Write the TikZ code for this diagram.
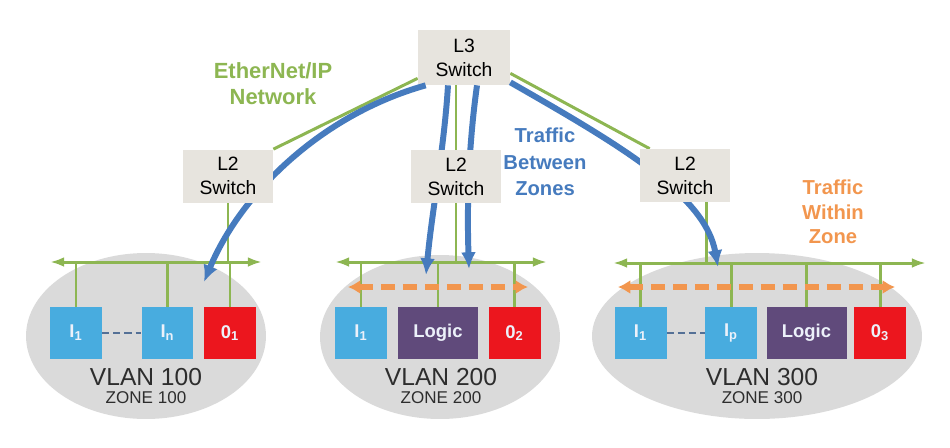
\documentclass[tikz,border=0pt]{standalone}
\usepackage{fontspec}
\setmainfont{Liberation Sans}
\usepackage{tikz}
\usetikzlibrary{arrows.meta}
\usetikzlibrary{calc}
\usetikzlibrary{shapes.geometric}
\definecolor{netgreen}{RGB}{141,182,82}
\definecolor{netblue}{RGB}{70,123,190}
\definecolor{netorange}{RGB}{242,150,78}
\definecolor{boxgray}{RGB}{231,228,222}
\definecolor{zonegray}{RGB}{218,218,218}
\definecolor{devblue}{RGB}{72,172,223}
\definecolor{devred}{RGB}{236,22,30}
\definecolor{devpurple}{RGB}{96,74,123}
\definecolor{devtext}{RGB}{236,241,250}
\definecolor{linkblue}{RGB}{84,112,150}
\definecolor{labelgray}{RGB}{45,45,45}
\pgfdeclarelayer{zones}
\pgfdeclarelayer{links}
\pgfsetlayers{zones,links,main}
\tikzstyle{switchbox} = [rectangle, fill=boxgray, minimum width=1.8cm, minimum height=1.06cm, align=center, inner sep=0pt, font=\fontsize{11}{13.6}\selectfont]
\tikzstyle{device} = [rectangle, minimum width=1.04cm, minimum height=1.04cm, inner sep=0pt, text=devtext, font=\fontsize{10.5}{12}\selectfont\bfseries]
\tikzstyle{zone} = [ellipse, fill=zonegray, inner sep=0pt]
\tikzstyle{vlan} = [text=labelgray, font=\fontsize{14}{16}\selectfont]
\tikzstyle{zonename} = [text=labelgray, font=\fontsize{9.7}{11}\selectfont]
\tikzstyle{net} = [netgreen, line width=1.7pt]
\tikzstyle{bus} = [net, {Latex[length=8pt,width=5.5pt]}-{Latex[length=8pt,width=5.5pt]}]
\tikzstyle{between} = [-{Latex[length=9.5pt,width=8.5pt]}, netblue, line width=3.4pt]
\tikzstyle{within} = [{Latex[length=7pt,width=8pt]}-{Latex[length=7pt,width=8pt]}, netorange, line width=3.2pt, dash pattern=on 8pt off 4.5pt]
\tikzstyle{chain} = [linkblue, line width=1.4pt, dash pattern=on 4pt off 2.3pt]
\tikzstyle{caption} = [align=center, font=\fontsize{11.5}{15}\selectfont\bfseries]

\begin{document}
\begin{tikzpicture}[x=0.02cm, y=-0.02cm]

  \useasboundingbox (0,0) rectangle (950,447);

  % zones
  \begin{pgfonlayer}{zones}
    \node[zone, minimum width=4.8cm, minimum height=3.32cm] (z1) at (146,336) {};
    \node[zone, minimum width=4.8cm, minimum height=3.28cm] (z2) at (440,337) {};
    \node[zone, minimum width=6.6cm, minimum height=3.32cm] (z3) at (757,336) {};
  \end{pgfonlayer}

  \foreach \x/\n in {146/100, 441/200, 762/300} {
    \node[vlan] at (\x,377) {VLAN \n};
    \node[zonename] at (\x,398) {ZONE \n};
  }

  % buses
  \coordinate (bus1w) at (50,262);  \coordinate (bus1e) at (262,262);
  \coordinate (bus2w) at (335,262); \coordinate (bus2e) at (547,262);
  \coordinate (bus3w) at (613,263); \coordinate (bus3e) at (926,263);
  \draw[bus] (bus1w) -- (bus1e);
  \draw[bus] (bus2w) -- (bus2e);
  \draw[bus] (bus3w) -- (bus3e);

  % Zone 100
  \node[device, fill=devblue] (i1a) at (76,333) {I\textsubscript{1}};
  \node[device, fill=devblue] (ina) at (167.5,333) {I\textsubscript{n}};
  \node[device, fill=devred] (o1) at (230,333) {0\textsubscript{1}};
  \draw[chain] (i1a.east) -- (ina.west);
  \foreach \d in {i1a, ina, o1}
    \draw[net] (\d.north) -- (\d.north |- bus1w);

  % Zone 200
  \node[device, fill=devblue] (i1b) at (361,333) {I\textsubscript{1}};
  \node[device, fill=devpurple, minimum width=1.6cm] (logb) at (438,333) {Logic};
  \node[device, fill=devred] (o2) at (514.5,333) {0\textsubscript{2}};
  \foreach \d in {i1b, logb, o2}
    \draw[net] (\d.north) -- (\d.north |- bus2w);
  \draw[within] (348,287) -- (528,287);

  % Zone 300
  \node[device, fill=devblue] (i1c) at (640.5,333) {I\textsubscript{1}};
  \node[device, fill=devblue] (ipc) at (731,333) {I\textsubscript{p}};
  \node[device, fill=devpurple, minimum width=1.6cm] (logc) at (806.5,333) {Logic};
  \node[device, fill=devred] (o3) at (880,333) {0\textsubscript{3}};
  \draw[chain] (i1c.east) -- (ipc.west);
  \foreach \d in {i1c, ipc, logc, o3}
    \draw[net] (\d.north) -- (\d.north |- bus3w);
  \draw[within] (618,287) -- (895,287);

  % switches
  \node[switchbox, minimum width=1.84cm, minimum height=1.1cm] (l3) at (464,57.5) {L3\\Switch};

  \draw[between] ($(l3.south west)+(8,0)$) .. controls (320,115) and (240,195) .. (204,282);
  \draw[between] ($(l3.south)+(-16,0)$) .. controls (444,150) and (432,210) .. (426,275);
  \draw[between] ($(l3.south)+(13,0)$) .. controls (468,150) and (467,210) .. (469,269);
  \draw[between] ($(l3.south east)+(0,-3)$) .. controls (620,145) and (705,195) .. (718,267);

  \node[switchbox] (l2a) at (228,176) {L2\\Switch};
  \node[switchbox] (l2b) at (456,176.5) {L2\\Switch};
  \node[switchbox] (l2c) at (685,175.5) {L2\\Switch};

  \coordinate (drop3) at (706,263);
  \begin{pgfonlayer}{links}
    \draw[net] ($(l3.south west)+(0,-7)$) -- (l2a.north east);
    \draw[net] (l2b.north) -- (l2b.north |- l3.south);
    \draw[net] ($(l3.south east)+(0,-12)$) -- ($(l2c.north west)+(10,0)$);
    \draw[net] (l2a.south) -- (l2a.south |- bus1w);
    \draw[net] (l2b.south) -- (l2b.south |- bus2w);
    \draw[net] (drop3 |- l2c.south) -- (drop3);
  \end{pgfonlayer}

  % labels
  \node[caption, text=netgreen, font=\fontsize{12.5}{14.7}\selectfont\bfseries] (ethnet) at (273,84) {EtherNet/IP\\Network};
  \node[caption, text=netblue] (tbz) at (545,162) {Traffic\\Between\\Zones};
  \node[caption, text=netorange, font=\fontsize{11.5}{14}\selectfont\bfseries] (twz) at (833,212) {Traffic\\Within\\Zone};

\end{tikzpicture}
\end{document}
